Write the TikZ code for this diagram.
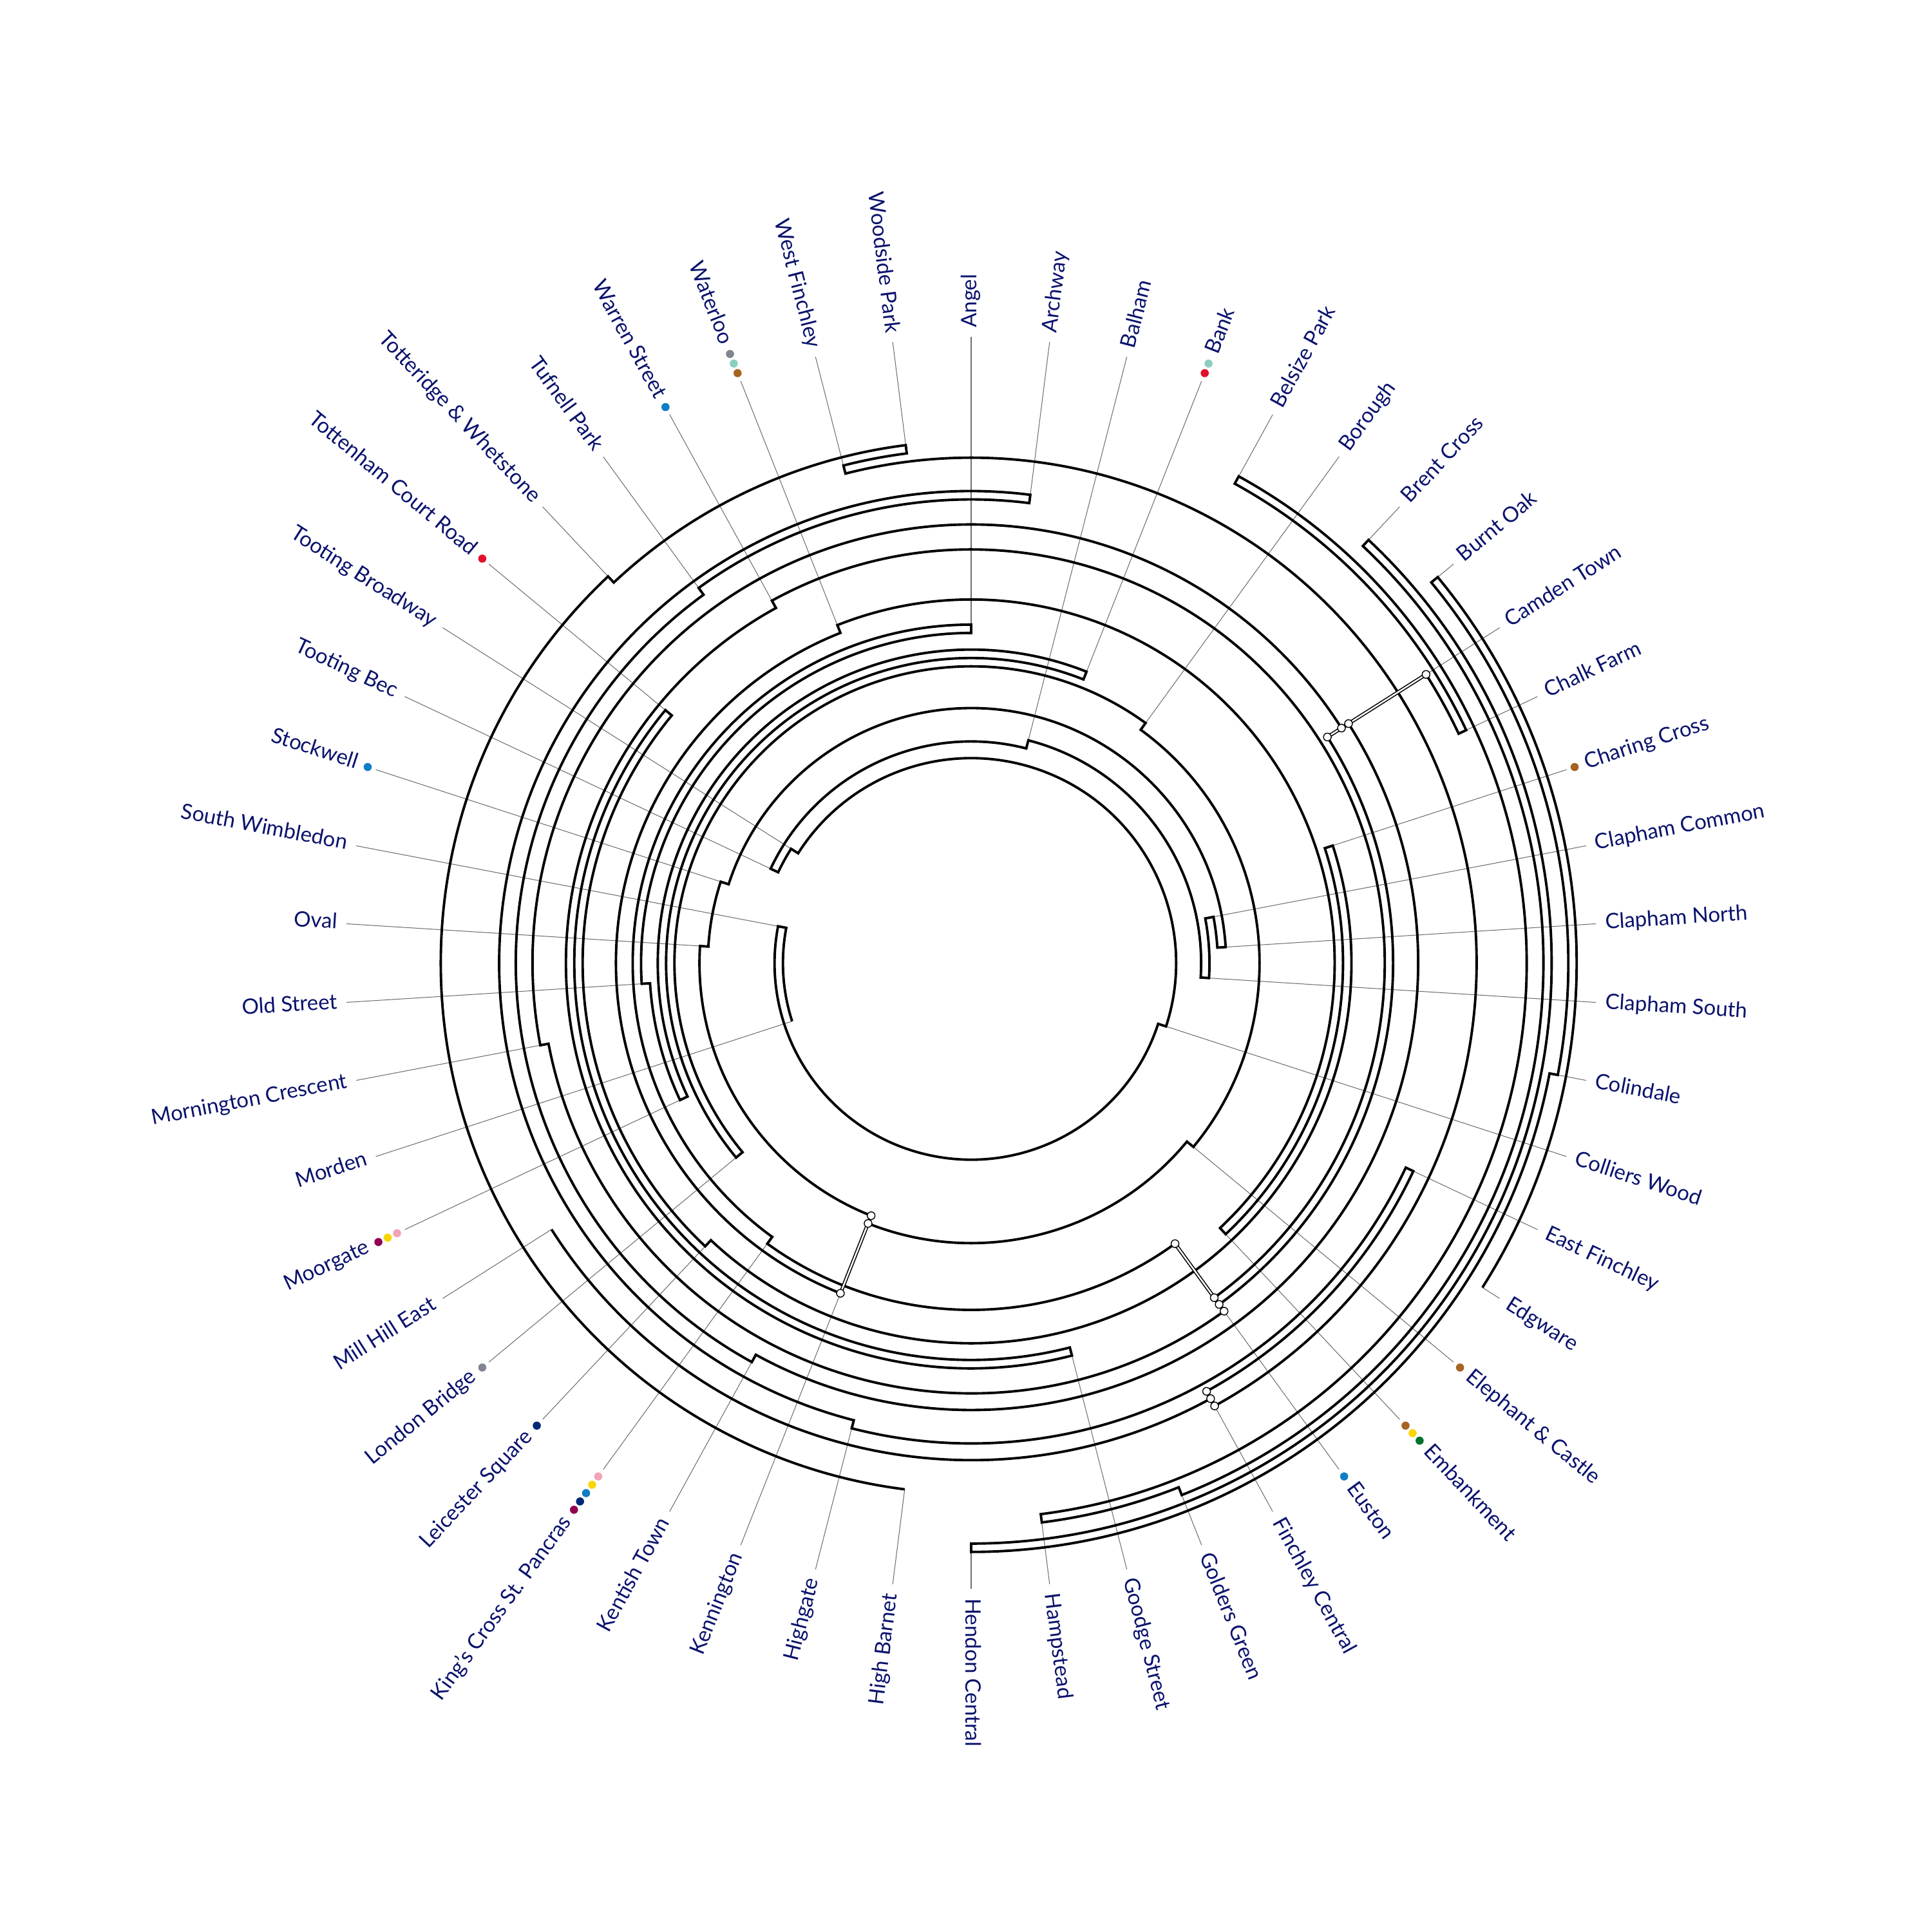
\documentclass[tikz,border=0pt]{standalone}
\usepackage{fontspec}
\setmainfont{Lato}

\definecolor{ink}{RGB}{10,18,108}
\definecolor{leadergray}{RGB}{110,110,110}
\definecolor{bakerloo}{RGB}{166,100,32}
\definecolor{central}{RGB}{225,16,45}
\definecolor{circleline}{RGB}{250,214,0}
\definecolor{district}{RGB}{0,114,41}
\definecolor{hammersmith}{RGB}{240,164,182}
\definecolor{jubilee}{RGB}{128,134,141}
\definecolor{metropolitan}{RGB}{145,0,80}
\definecolor{piccadilly}{RGB}{0,40,120}
\definecolor{victoria}{RGB}{16,125,196}
\definecolor{wac}{RGB}{140,207,192}

\tikzset{
  tube/.style={line width=1.1pt, line join=miter},
  leader/.style={line width=0.3pt, leadergray},
  stname/.style={text=ink, font=\fontsize{9.4}{11}\selectfont, inner sep=0pt},
  joint/.style={draw=black, double=white, double distance=0.7pt, line width=0.45pt},
  jointdot/.style={fill=white, draw=black, line width=0.4pt},
}

% radius of ring k
\newcommand{\rad}[1]{2.923+0.1296*(#1)}

% one run of the line: first ring, first station, the stations after it
\newcommand{\route}[3]{%
  \draw[tube] ({90-7.2*#2}:{\rad{#1}})
    \foreach \b [count=\j from 0, remember=\b as \a (initially #2)] in {#3} {
      -- ({90-7.2*\a}:{\rad{#1+\j}})
      arc[start angle={90-7.2*\a}, delta angle={mod(7.2*(\a-\b)+540,360)-180}, radius={\rad{#1+\j}}]
    };
}

% same station met again on another ring
\newcommand{\joint}[3]{%
  \coordinate (j-#1-#2) at ({90-7.2*#1}:{\rad{#2}});
  \coordinate (j-#1-#3) at ({90-7.2*#1}:{\rad{#3}});
  \draw[joint] (j-#1-#2) -- (j-#1-#3);
}

\begin{document}
\begin{tikzpicture}
  \useasboundingbox (0,0) rectangle (30,30);

  \begin{scope}[shift={(15.08,15.045)}]
    % station names and leaders
    \foreach \i/\name/\k/\n in {
        0/Angel/18/0, 1/Archway/34/0, 2/Balham/5/0, 3/Bank/15/2,
        4/Belsize Park/44/0, 5/Borough/13/0, 6/Brent Cross/47/0, 7/Burnt Oak/50/0,
        8/Camden Town/42/0, 9/Chalk Farm/43/0, 10/Charing Cross/23/1,
        11/Clapham Common/7/0, 12/Clapham North/8/0, 13/Clapham South/6/0,
        14/Colindale/49/0, 15/Colliers Wood/2/0, 16/East Finchley/36/0,
        17/Edgware/50/0, 18/Elephant \& Castle/12/1, 19/Embankment/22/3,
        20/Euston/29/1, 21/Finchley Central/38/0, 22/Golders Green/46/0,
        23/Goodge Street/26/0, 24/Hampstead/45/0, 25/Hendon Central/48/0,
        26/High Barnet/41/0, 27/Highgate/35/0, 28/Kennington/20/0,
        29/Kentish Town/32/0, 30/King's Cross St. Pancras/19/5,
        31/Leicester Square/24/1, 32/London Bridge/14/1, 33/Mill Hill East/37/0,
        34/Moorgate/16/3, 35/Morden/0/0, 36/Mornington Crescent/30/0,
        37/Old Street/17/0, 38/Oval/10/0, 39/South Wimbledon/1/0,
        40/Stockwell/9/1, 41/Tooting Bec/4/0, 42/Tooting Broadway/3/0,
        43/Tottenham Court Road/25/1, 44/Totteridge \& Whetstone/41/0,
        45/Tufnell Park/33/0, 46/Warren Street/27/1, 47/Waterloo/21/3,
        48/West Finchley/39/0, 49/Woodside Park/40/0} {
      \pgfmathsetmacro\ang{90-7.2*\i}
      \coordinate (pt-\i) at (\ang:{\rad{\k}});
      \coordinate (end-\i) at (\ang:9.72);
      \draw[leader] (pt-\i) -- (end-\i);
      \ifnum\i<26
        \node[stname, anchor=mid west, rotate=\ang] (st-\i) at (\ang:{9.86+0.16*\n}) {\name};
      \else
        \node[stname, anchor=mid east, rotate=\ang+180] (st-\i) at (\ang:{9.86+0.16*\n}) {\name};
      \fi
    }

    % interchange dots
    \foreach \i/\cols in {3/{central,wac}, 10/{bakerloo}, 18/{bakerloo},
        19/{bakerloo,circleline,district}, 20/{victoria},
        30/{hammersmith,circleline,victoria,piccadilly,metropolitan},
        31/{piccadilly}, 32/{jubilee}, 34/{hammersmith,circleline,metropolitan},
        40/{victoria}, 43/{central}, 46/{victoria}, 47/{bakerloo,wac,jubilee}} {
      \foreach \c [count=\m from 0] in \cols
        \fill[\c] ({90-7.2*\i}:{9.853+0.16*\m}) circle (0.063);
    }

    % the line, run by run
    \route{0}{35}{39,15,42,41,2,13,11,12,40,38,28}
    \route{11}{28}{18,5,32,3,34,37,0,30,20}
    \route{20}{28}{47,19,10,31,43,23,46,20}
    \route{28}{20}{8}
    \route{29}{20}{36,8}
    \route{31}{8}{29,45,1,27,16,21}
    \route{37}{21}{33}
    \route{38}{21}{48,49,44,26}
    \route{42}{8}{9,4,24,22,6,25,14,7,17}

    % joints
    \joint{28}{10}{11} \joint{28}{11}{20}
    \joint{20}{19}{27} \joint{20}{27}{28} \joint{20}{28}{29}
    \joint{8}{28}{30} \joint{8}{30}{31} \joint{8}{31}{42}
    \joint{21}{36}{37} \joint{21}{37}{38}
    \foreach \s/\k in {28/10, 28/11, 28/20, 20/19, 20/27, 20/28, 20/29,
        8/28, 8/30, 8/31, 8/42, 21/36, 21/37, 21/38}
      \filldraw[jointdot] (j-\s-\k) circle (0.06);
  \end{scope}
\end{tikzpicture}
\end{document}
